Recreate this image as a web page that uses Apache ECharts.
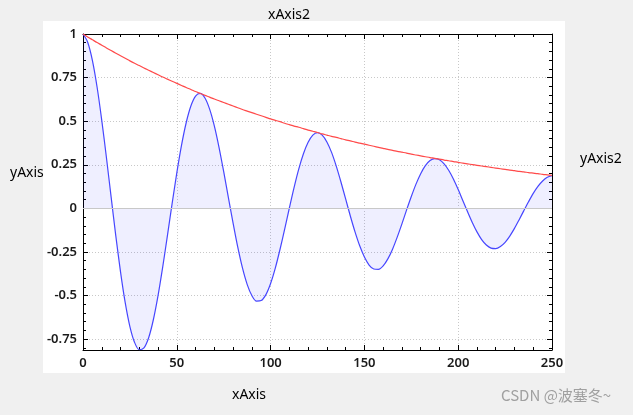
<!DOCTYPE html>
<html><head><meta charset="utf-8">
<script src="https://cdn.jsdelivr.net/npm/echarts@6/dist/echarts.min.js"></script>
<style>html,body{margin:0;padding:0;background:#f0f0f0;}#c{width:633px;height:415px;}</style>
</head><body><div id="c"></div>
<script>
// x positions
const xs = [];
for (let k = 0; k <= 100; k++) xs.push(k * 2.5);
// damped oscillation (blue), read per x above
const wave = [1.000,0.953,0.849,0.696,0.505,0.290,0.064,-0.159,-0.364,-0.541,
-0.678,-0.769,-0.811,-0.800,-0.742,-0.639,-0.501,-0.336,-0.156,0.027,
0.203,0.361,0.491,0.587,0.644,0.659,0.633,0.569,0.473,0.350,
0.210,0.062,-0.085,-0.223,-0.342,-0.436,-0.500,-0.532,-0.529,-0.495,
-0.431,-0.343,-0.236,-0.119,0.002,0.119,0.225,0.313,0.379,0.420,
0.434,0.420,0.381,0.321,0.242,0.151,0.054,-0.044,-0.135,-0.215,
-0.279,-0.325,-0.348,-0.350,-0.330,-0.290,-0.234,-0.165,-0.089,-0.009,
0.068,0.139,0.199,0.245,0.274,0.285,0.279,0.255,0.217,0.167,
0.108,0.044,-0.020,-0.081,-0.135,-0.179,-0.210,-0.228,-0.231,-0.219,
-0.195,-0.159,-0.115,-0.065,-0.013,0.038,0.086,0.126,0.157,0.178,0.187];
// envelope (red)
const envelope = [1.000,0.983,0.967,0.951,0.936,0.920,0.905,0.890,0.875,0.861,
0.846,0.832,0.819,0.805,0.792,0.779,0.766,0.753,0.741,0.729,
0.717,0.705,0.693,0.682,0.670,0.659,0.648,0.638,0.627,0.617,
0.607,0.597,0.587,0.577,0.567,0.558,0.549,0.540,0.531,0.522,
0.513,0.505,0.497,0.488,0.480,0.472,0.465,0.457,0.449,0.442,
0.435,0.427,0.420,0.413,0.407,0.400,0.393,0.387,0.380,0.374,
0.368,0.362,0.356,0.350,0.344,0.338,0.333,0.327,0.322,0.317,
0.311,0.306,0.301,0.296,0.291,0.287,0.282,0.277,0.273,0.268,
0.264,0.259,0.255,0.251,0.247,0.243,0.239,0.235,0.231,0.227,
0.223,0.219,0.216,0.212,0.209,0.205,0.202,0.199,0.195,0.192,0.189];
const yTicks = [-0.75,-0.5,-0.25,0,0.25,0.5,0.75,1];
const yTickLabels = ['-0.75','-0.5','-0.25','0','0.25','0.5','0.75','1'];
const xTicks = [0,50,100,150,200,250];
const Y_MIN = -0.8125, Y_MAX = 1;
const yMinor = [];
for (let i = -16; i <= 20; i++) yMinor.push(Math.round(i * 5) / 100);

const chart = echarts.init(document.getElementById('c'));
const lab = {fontFamily:'Noto Sans', fontSize:13, color:'#1a1a1a', fontWeight:600};
const tickStyle = {color:'#000', width:1};
function fmtY(v){ const i = yTicks.findIndex(t=>Math.abs(t-v)<1e-6); return i>=0 ? yTickLabels[i] : ''; }
function yAx(pos, major, showLabel, showLine, showSplit){
  return {type:'value', min:Y_MIN, max:Y_MAX, position:pos,
    axisLine:{show:showLine, onZero:false, lineStyle:{color:'#000'}},
    axisTick:{show:true, inside:true, length:major?5:3, lineStyle:tickStyle, customValues: major?yTicks:yMinor},
    minorTick:{show:false},
    axisLabel:Object.assign({show:showLabel, margin:6, formatter:fmtY, customValues:yTicks}, lab),
    splitLine:{show:showSplit, lineStyle:{color:'#c8c8c8', type:[1,2]}}};
}
chart.setOption({
  animation:false,
  backgroundColor:'#f0f0f0',
  graphic:[
    {type:'rect', left:43, top:21, shape:{width:522, height:352}, style:{fill:'#ffffff'}, z:-10},
    {type:'text', left:268, top:8, style:{text:'xAxis2', font:'14px "Noto Sans"', fill:'#000'}},
    {type:'text', left:232, top:388, style:{text:'xAxis', font:'14px "Noto Sans"', fill:'#000'}},
    {type:'text', left:10, top:166, style:{text:'yAxis', font:'14px "Noto Sans"', fill:'#000'}},
    {type:'text', left:580, top:152, style:{text:'yAxis2', font:'14px "Noto Sans"', fill:'#000'}},
    {type:'text', left:501, top:388, style:{text:'CSDN @波塞冬~', font:'15px "Noto Sans CJK SC"', fill:'#a0a0a0'}}
  ],
  grid:{left:83, right:81, top:34, bottom:65},
  xAxis:[
    {type:'value', min:0, max:250, interval:50, position:'bottom',
     axisLine:{onZero:false, lineStyle:{color:'#000'}}, axisTick:{inside:true, length:5, lineStyle:tickStyle},
     minorTick:{show:true, splitNumber:5, length:3, lineStyle:tickStyle},
     axisLabel:Object.assign({margin:7, formatter:v=>xTicks.includes(v)?String(v):''}, lab),
     splitLine:{show:true, lineStyle:{color:'#c8c8c8', type:[1,2]}}},
    {type:'value', min:0, max:250, interval:50, position:'top',
     axisLine:{onZero:false, lineStyle:{color:'#000'}}, axisTick:{inside:true, length:5, lineStyle:tickStyle},
     minorTick:{show:true, splitNumber:5, length:3, lineStyle:tickStyle},
     axisLabel:{show:false}, splitLine:{show:false}}
  ],
  yAxis:[
    yAx('left', true, true, true, true),
    yAx('right', true, false, true, false),
    yAx('left', false, false, false, false),
    yAx('right', false, false, false, false)
  ],
  series:[
    {type:'line', data:xs.map((x,i)=>[x,wave[i]]), symbol:'none', smooth:0.3,
     lineStyle:{color:'#4646ff', width:1.2}, areaStyle:{color:'rgba(0,0,255,0.09)', origin:0}, z:3,
     markLine:{silent:true, symbol:'none', label:{show:false}, lineStyle:{color:'#c8c8c8', type:'solid', width:1}, data:[{yAxis:0}]}},
    {type:'line', data:xs.map((x,i)=>[x,envelope[i]]), symbol:'none', smooth:0.3,
     lineStyle:{color:'#ff4a4a', width:1.2}, z:4}
  ]
});
</script></body></html>
